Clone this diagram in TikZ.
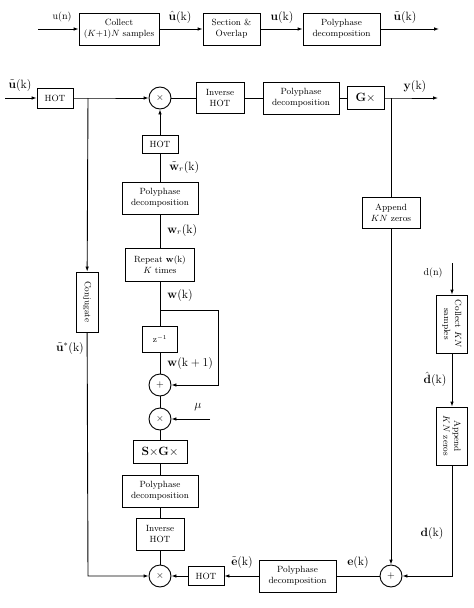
\documentclass[tikz,border=0pt]{standalone}
\usepackage{amsmath, amssymb}
\usepackage{tikz}
\usetikzlibrary{arrows.meta}
\begin{document}
\begin{tikzpicture}[x=1pt,y=-1pt,line width=0.9pt,
  >={Latex[length=5pt,width=3.6pt]},
  blk/.style={draw,align=center,font=\small,inner sep=1pt},
  sumnode/.style={draw,circle,minimum size=22pt,inner sep=0pt},
  lbl/.style={font=\large,inner sep=1pt}]%
  \useasboundingbox (0,0) rectangle (474,608);%
  % top row
  \coordinate (in0) at (38,29);%
  \node [blk,minimum width=80pt,minimum height=32pt] (collect) at (119,29) {Collect\\$(K{+}1)N$ samples};%
  \node [blk,minimum width=57pt,minimum height=32pt] (section) at (231.5,29) {Section \&\\Overlap};%
  \node [blk,minimum width=77pt,minimum height=32pt] (poly0) at (341.5,29) {Polyphase\\decomposition};%
  \coordinate (out0) at (439,29);%
  \draw [->] (in0) to (collect);%
  \draw [->] (collect) to (section);%
  \draw [->] (section) to (poly0);%
  \draw [->] (poly0) to (out0);%
  \node at (62,17) {u(n)};%
  \node [lbl] at (180,17) {$\hat{\mathbf{u}}(\mathrm{k})$};%
  \node [lbl] at (282,17) {$\mathbf{u}(\mathrm{k})$};%
  \node [lbl] at (405,17) {$\tilde{\mathbf{u}}(\mathrm{k})$};%
  % main row
  \coordinate (in1) at (5,98);%
  \node [blk,minimum width=36pt,minimum height=20pt] (hot1) at (55,98) {HOT};%
  \coordinate (split1) at (88,98);%
  \node [sumnode] (mul1) at (160,98) {$\times$};%
  \node [blk,minimum width=48pt,minimum height=31pt] (ihot1) at (220,98) {Inverse\\HOT};%
  \node [blk,minimum width=76pt,minimum height=32pt] (poly1) at (301,98) {Polyphase\\decomposition};%
  \node [blk,minimum width=37pt,minimum height=23pt,font=\large] (gmul) at (365.5,98) {$\mathbf{G}\times$};%
  \coordinate (split2) at (391,98);%
  \coordinate (out1) at (438,98);%
  \draw [->] (in1) to (hot1);%
  \draw [->] (hot1) to (split1) to (mul1);%
  \draw (mul1) to (ihot1);%
  \draw (ihot1) to (poly1);%
  \draw (poly1) to (gmul);%
  \draw [->] (gmul) to (split2) to (out1);%
  \node [lbl] at (20,85) {$\tilde{\mathbf{u}}(\mathrm{k})$};%
  \node [lbl] at (415,86) {$\mathbf{y}(\mathrm{k})$};%
  % centre column
  \node [blk,minimum width=36pt,minimum height=18pt] (hot2) at (160,144) {HOT};%
  \node [blk,minimum width=76pt,minimum height=32pt] (poly2) at (160,198) {Polyphase\\decomposition};%
  \node [blk,minimum width=69pt,minimum height=33pt] (repeat) at (160,264.5) {Repeat $\mathbf{w}(\mathrm{k})$\\$K$ times};%
  \coordinate (wsplit) at (160,310);%
  \node [blk,minimum width=35pt,minimum height=26pt] (zinv) at (160,339) {z$^{-1}$};%
  \node [sumnode] (add1) at (160,385) {$+$};%
  \node [sumnode] (mul2) at (160,419) {$\times$};%
  \node [blk,minimum width=54pt,minimum height=23pt,font=\large] (sgmul) at (160,451.5) {$\mathbf{S}{\times}\mathbf{G}\times$};%
  \node [blk,minimum width=76pt,minimum height=32pt] (poly3) at (160,491) {Polyphase\\decomposition};%
  \node [blk,minimum width=48pt,minimum height=32pt] (ihot2) at (160,534) {Inverse\\HOT};%
  \node [sumnode] (mul3) at (160,576) {$\times$};%
  \coordinate (loop1) at (218,310);%
  \coordinate (loop2) at (218,385);%
  \coordinate (mu) at (210,419);%
  \draw [->] (hot2) to (mul1);%
  \draw (poly2) to (hot2);%
  \draw (repeat) to (poly2);%
  \draw (zinv) to (repeat);%
  \draw (add1) to (zinv);%
  \draw (mul2) to (add1);%
  \draw (sgmul) to (mul2);%
  \draw (poly3) to (sgmul);%
  \draw (ihot2) to (poly3);%
  \draw (mul3) to (ihot2);%
  \draw [->] (wsplit) to (loop1) to (loop2) to (add1);%
  \draw [->] (mu) to (mul2);%
  \node [lbl,anchor=west] at (168,167) {$\tilde{\mathbf{w}}_{r}(\mathrm{k})$};%
  \node [lbl,anchor=west] at (166,230) {$\mathbf{w}_{r}(\mathrm{k})$};%
  \node [lbl,anchor=west] at (166,295) {$\mathbf{w}(\mathrm{k})$};%
  \node [lbl,anchor=west] at (166,363) {$\mathbf{w}(\mathrm{k}+1)$};%
  \node [lbl] at (198,407) {$\mu$};%
  % left column
  \node [blk,rotate=-90,minimum width=60pt,minimum height=22pt] (conj) at (87,302) {Conjugate};%
  \coordinate (corner1) at (88,576);%
  \draw [->] (split1) to (conj);%
  \draw [->] (conj) to (corner1) to (mul3);%
  \node [lbl] at (70,348) {$\tilde{\mathbf{u}}^{*}(\mathrm{k})$};%
  % bottom row
  \node [blk,minimum width=36pt,minimum height=19pt] (hot3) at (206,576) {HOT};%
  \node [blk,minimum width=77pt,minimum height=32pt] (poly4) at (297.5,576) {Polyphase\\decomposition};%
  \node [sumnode] (add2) at (391,576) {$+$};%
  \draw (add2) to (poly4);%
  \draw [->] (poly4) to (hot3);%
  \draw [->] (hot3) to (mul3);%
  \node [lbl] at (242,562) {$\tilde{\mathbf{e}}(\mathrm{k})$};%
  \node [lbl] at (358,562) {$\mathbf{e}(\mathrm{k})$};%
  % right columns
  \node [blk,minimum width=58pt,minimum height=31pt] (append1) at (391,212.5) {Append\\$KN$ zeros};%
  \draw (split2) to (append1);%
  \draw [->] (append1) to (add2);%
  \coordinate (dn) at (452,263);%
  \node [blk,rotate=-90,minimum width=58pt,minimum height=31pt] (collkn) at (452,324) {Collect $KN$\\samples};%
  \node [blk,rotate=-90,minimum width=58pt,minimum height=31pt] (appkn) at (452,436) {Append\\$KN$ zeros};%
  \coordinate (corner2) at (452,576);%
  \draw [->] (dn) to (collkn);%
  \draw [->] (collkn) to (appkn);%
  \draw [->] (appkn) to (corner2) to (add2);%
  \node at (433,273) {d(n)};%
  \node [lbl] at (435,379) {$\hat{\mathbf{d}}(\mathrm{k})$};%
  \node [lbl] at (432,533) {$\mathbf{d}(\mathrm{k})$};%
\end{tikzpicture}
\end{document}
